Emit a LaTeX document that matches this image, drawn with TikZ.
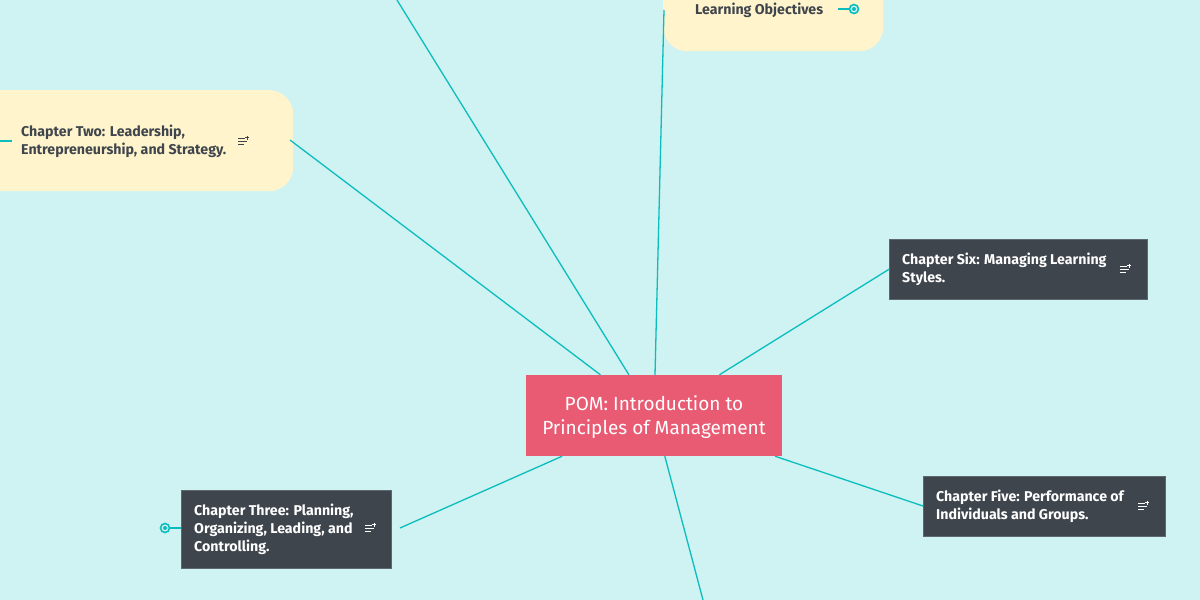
\documentclass[tikz,border=0pt]{standalone}
\usepackage{fontspec}
\setmainfont{Fira Sans}
\definecolor{bgc}{HTML}{CFF2F2}
\definecolor{teal2}{HTML}{0CBDBD}
\definecolor{yel}{HTML}{FFF4CC}
\definecolor{dark}{HTML}{3F454D}
\definecolor{rootc}{HTML}{E85B73}
\tikzset{
  link/.style={draw=teal2,line width=1.3pt},
  darkbox/.style={draw=dark!80!bgc,line width=.5pt,fill=dark,anchor=north west,inner sep=0pt},
  yelbox/.style={fill=yel,rounded corners=24pt,anchor=north west,inner sep=0pt},
  lab/.style={anchor=west,align=left,inner sep=0pt,font=\fontsize{14.2}{18}\selectfont\bfseries},
  port/.style={circle,draw=teal2,line width=1.6pt,fill=bgc,minimum size=9pt,inner sep=0pt},
  pic note/.style={line width=1pt,line cap=butt}
}
\newcommand{\noteicon}[3]{%
  \draw[pic note,draw=#3] (#1-5,#2-2.5) -- (#1+2,#2-2.5) (#1-5,#2+.5) -- (#1+3.5,#2+.5) (#1-5,#2+3.5) -- (#1+1,#2+3.5);
  \draw[line width=.8pt,draw=#3] (#1+2,#2-3.5) -- (#1+6,#2-3.5) (#1+4,#2-5.5) -- (#1+4,#2-1.5);
}
\begin{document}
\begin{tikzpicture}[x=1pt,y=-1pt]
\useasboundingbox (0,0) rectangle (1200,600);
\clip (0,0) rectangle (1200,600);
\fill[bgc] (0,0) rectangle (1200,600);

% boxes
\node[yelbox,minimum width=353pt,minimum height=101pt] (ch2) at (-60,90) {};
\node[yelbox,minimum width=220pt,minimum height=84pt] (lo) at (663,-33) {};
\node[darkbox,minimum width=258pt,minimum height=60pt] (ch6) at (889,239) {};
\node[darkbox,minimum width=242.3pt,minimum height=59.5pt] (ch5) at (923,476) {};
\node[darkbox,minimum width=210.8pt,minimum height=77.5pt] (ch3) at (180.5,490) {};
\node[fill=rootc,minimum width=256pt,minimum height=81pt,inner sep=0pt,
      text=white,align=center,font=\fontsize{19}{24}\selectfont] (root) at (654,415.5) {};
\node[text=white,align=center,inner sep=0pt,font=\fontsize{19}{24}\selectfont] (roottext) at (654,417.5)
  {POM: Introduction to\\Principles of Management};

\coordinate (topend) at (397,0);
\coordinate (botend) at (703,600);
\coordinate (ch2end) at (290,140);
\coordinate (loend) at (664,10);
\coordinate (ch3end) at (400,528);
\coordinate (ch2left) at (0,141);
\coordinate (ch2stub) at (12,141);
\coordinate (lostub) at (838,9);
\coordinate (ch3stub) at (181,528);

% connectors
\draw[link] (root) -- (ch2end);
\draw[link] (root) -- (topend);
\draw[link] (root) -- (loend);
\draw[link] (root) -- (ch6.west);
\draw[link] (root) -- (ch5.west);
\draw[link] (root) -- (botend);
\draw[link] (root) -- (ch3end);
\draw[link] (ch2left) -- (ch2stub);

% ports
\node[port] (loport) at (854,9) {};
\node[port] (ch3port) at (165,528) {};
\draw[link] (lostub) -- (loport);
\draw[link] (ch3stub) -- (ch3port);
\fill[teal2] (loport.center) circle (2pt);
\fill[teal2] (ch3port.center) circle (2pt);

% labels
\node[lab,text=dark] (t2) at (21,141.7) {Chapter Two: Leadership,\\Entrepreneurship, and Strategy.};
\node[lab,text=dark] (tlo) at (695,10) {Learning Objectives};
\node[lab,text=white] (t6) at (902,269.7) {Chapter Six: Managing Learning\\Styles.};
\node[lab,text=white] (t5) at (936,506.7) {Chapter Five: Performance of\\Individuals and Groups.};
\node[lab,text=white] (t3) at (194,529.7) {Chapter Three: Planning,\\Organizing, Leading, and\\Controlling.};

% note icons
\noteicon{243}{141}{dark}
\noteicon{1125}{269}{white}
\noteicon{1143}{506}{white}
\noteicon{370}{528}{white}
\end{tikzpicture}
\end{document}
